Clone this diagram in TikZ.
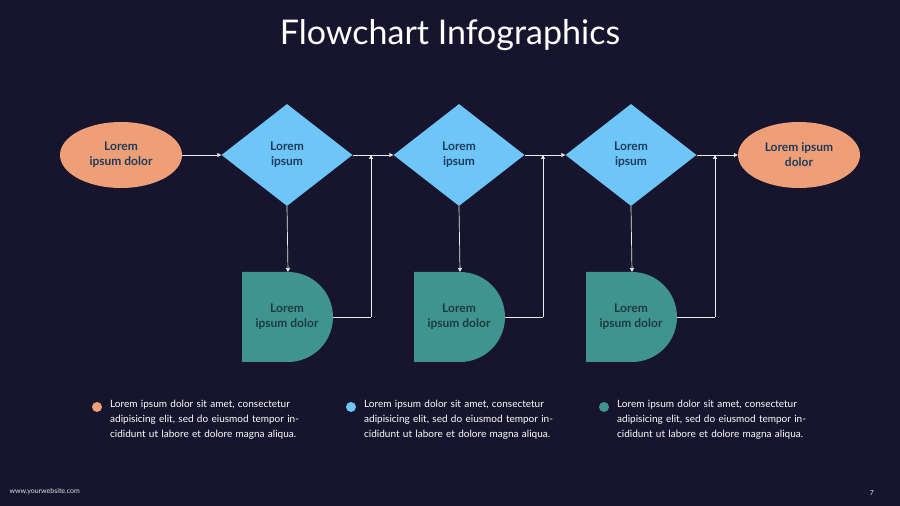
\documentclass[tikz,border=0pt]{standalone}
\usepackage{fontspec}
\setmainfont{Lato}
\usetikzlibrary{shapes.geometric,arrows.meta}
\definecolor{bg}{HTML}{16152D}
\definecolor{orng}{HTML}{EF9F78}
\definecolor{sky}{HTML}{6EC6F8}
\definecolor{teal}{HTML}{3F9490}
\definecolor{txt}{HTML}{1D3A5A}
\definecolor{ttxt}{HTML}{1C3B3C}
\begin{document}
\begin{tikzpicture}[x=1pt,y=1pt,
  lbl/.style={font=\bfseries\fontsize{12}{15}\selectfont,align=center},
  oval/.style={ellipse,fill=orng,minimum width=122pt,minimum height=66pt,inner sep=0,lbl,text=txt},
  dia/.style={diamond,fill=sky,minimum width=131pt,minimum height=102pt,inner sep=0,lbl,text=txt},
  conn/.style={draw=white!85!gray,line width=0.7pt},
  arr/.style={conn,-{Triangle[length=4pt,width=4pt]}},
  bul/.style={circle,inner sep=0,minimum size=10pt},
  btxt/.style={anchor=north west,text width=205pt,text=white,font=\fontsize{10}{15}\selectfont,align=left,inner sep=0}]
\fill[bg] (0,0) rectangle (900,506);
\useasboundingbox (0,0) rectangle (900,506);
\node[text=white,font=\fontsize{34}{40}\selectfont] (title) at (450,471) {Flowchart Infographics};
\node[oval] (start) at (121,351) {Lorem\\ipsum dolor};
\node[oval] (end) at (799,351) {Lorem ipsum\\dolor};
\foreach \i/\x in {1/287,2/459,3/631}{
  \node[dia] (d\i) at (\x,351) {Lorem\\ipsum};
  \fill[teal] (\x-45,234) -- (\x+1,234) arc[start angle=90,end angle=-90,radius=45] -- (\x-45,144) -- cycle;
  \coordinate (gtop\i) at (\x+1,234);
  \coordinate (gright\i) at (\x+46,189);
  \node[lbl,text=ttxt] (g\i) at (\x,189) {Lorem\\ipsum dolor};
  \coordinate (up\i) at (\x+84,189);
  \coordinate (join\i) at (\x+84,351);
  \draw[arr] (d\i.south) -- (gtop\i);
  \draw[conn] (gright\i) -- (up\i);
  \draw[arr] (up\i) -- (join\i);
}
\draw[arr] (start.east) -- (d1.west);
\draw[arr] (d1.east) -- (d2.west);
\draw[arr] (d2.east) -- (d3.west);
\draw[arr] (d3.east) -- (end.west);
\foreach \i/\x/\c in {1/97/orng,2/351/sky,3/604/teal}{
  \node[bul,fill=\c] (b\i) at (\x,99) {};
  \node[btxt] (t\i) at (\x+13,106) {Lorem ipsum dolor sit amet, consectetur adipisicing elit, sed do eiusmod tempor incididunt ut labore et dolore magna aliqua.};
}
\node[anchor=west,text=white!80!gray,font=\fontsize{7}{8}\selectfont] (web) at (6,14) {www.yourwebsite.com};
\node[text=white!80!gray,font=\fontsize{7}{8}\selectfont] (pg) at (872,13) {7};
\end{tikzpicture}
\end{document}
